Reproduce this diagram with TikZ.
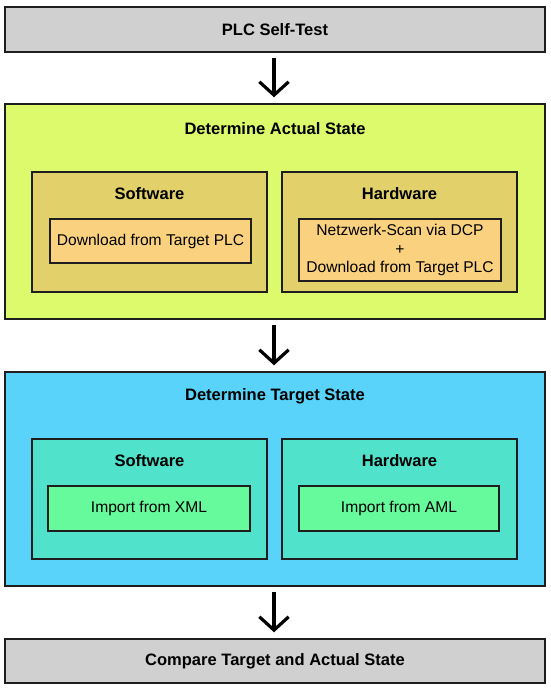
\documentclass[tikz,border=0pt]{standalone}
\usepackage{fontspec}
\setmainfont{Liberation Sans}
\usetikzlibrary{arrows.meta}
\definecolor{cgray}{HTML}{D0D0D0}
\definecolor{cyellow}{HTML}{DCFA6C}
\definecolor{colive}{HTML}{E2D16A}
\definecolor{corange}{HTML}{FAD27F}
\definecolor{cblue}{HTML}{59D3FA}
\definecolor{cteal}{HTML}{50E2CA}
\definecolor{cgreen}{HTML}{66FA9C}
\definecolor{cline}{HTML}{1E1E1E}
\tikzset{
  px/.style={x=0.75pt,y=-0.75pt},
  box/.style={draw=cline,line width=1.1pt,inner sep=0pt,rectangle},
  title/.style={font=\bfseries\fontsize{12.4}{14}\selectfont,text=black},
  plain/.style={font=\fontsize{11.7}{14}\selectfont,text=black,align=center},
  flow/.style={line width=2.4pt,-{Straight Barb[length=10pt,width=22pt,line width=2.4pt]}},
}
\begin{document}
\begin{tikzpicture}[px]
\useasboundingbox (0,0) rectangle (550,692);
% top
\node[box,fill=cgray,minimum width=405pt,minimum height=33.75pt] (top) at (275,29.5) {};
\node[title] (toptxt) at (275,29.5) {PLC Self-Test};
% actual
\node[box,fill=cyellow,minimum width=405pt,minimum height=161.25pt] (actual) at (275,211.5) {};
\node[title] (actualtxt) at (275,129) {Determine Actual State};
\node[box,fill=colive,minimum width=176.25pt,minimum height=90pt] (asw) at (149.5,232) {};
\node[title] (aswtxt) at (149.5,194) {Software};
\node[box,fill=corange,minimum width=150.75pt,minimum height=33pt] (aswin) at (150.5,241) {};
\node[plain] (aswintxt) at (150.5,241) {Download from Target PLC};
\node[box,fill=colive,minimum width=176.25pt,minimum height=90pt] (ahw) at (399.5,232) {};
\node[title] (ahwtxt) at (399.5,194) {Hardware};
\node[box,fill=corange,minimum width=151.5pt,minimum height=46.5pt] (ahwin) at (400,250) {};
\node[plain] (ahwintxt) at (400,250) {Netzwerk-Scan via DCP\\+\\Download from Target PLC};
% target
\node[box,fill=cblue,minimum width=405pt,minimum height=160.5pt] (target) at (275,479) {};
\node[title] (targettxt) at (275,396) {Determine Target State};
\node[box,fill=cteal,minimum width=176.25pt,minimum height=90pt] (tsw) at (149.5,499) {};
\node[title] (tswtxt) at (149.5,461) {Software};
\node[box,fill=cgreen,minimum width=151.5pt,minimum height=33.75pt] (tswin) at (149,508.5) {};
\node[plain] (tswintxt) at (149,508.5) {Import from XML};
\node[box,fill=cteal,minimum width=176.25pt,minimum height=90pt] (thw) at (399.5,499) {};
\node[title] (thwtxt) at (399.5,461) {Hardware};
\node[box,fill=cgreen,minimum width=150pt,minimum height=33.75pt] (thwin) at (399,508.5) {};
\node[plain] (thwintxt) at (399,508.5) {Import from AML};
% bottom
\node[box,fill=cgray,minimum width=405pt,minimum height=33pt] (bottom) at (275,661) {};
\node[title] (bottomtxt) at (275,661) {Compare Target and Actual State};
% arrows
\draw[flow,shorten <=3.75pt,shorten >=4.5pt] (top.south -| 274,0) -- (actual.north -| 274,0);
\draw[flow,shorten <=3.75pt,shorten >=4.5pt] (actual.south -| 274,0) -- (target.north -| 274,0);
\draw[flow,shorten <=3.75pt,shorten >=4.5pt] (target.south -| 274,0) -- (bottom.north -| 274,0);
\end{tikzpicture}
\end{document}
